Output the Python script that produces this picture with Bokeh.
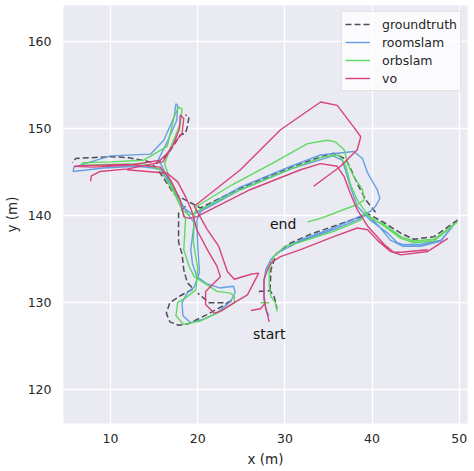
import numpy as np
from bokeh.plotting import figure
from bokeh.models import Range1d, FixedTicker, Legend, LegendItem
from bokeh.core.properties import value
from bokeh.embed import file_html
from bokeh.resources import INLINE

N = None  # break between pieces of a trajectory

# ---------------- data (metres) ----------------
gt_x = [27.0, 28.3, 28.8, 29.1, N,
        28.3, 28.4, 29.0, 30.5, 33.0, 35.6, 38.7, 39.6, 41.4, 43.3, 44.8, 47.1, 49.8, N,
        40.4, 39.3, 38.3, 37.6, 37.0, 35.6, 34.5, 30.7, 24.9, 20.3, 19.2, 17.3, 15.7, 14.6, 12.0, 10.0, 6.0, 5.6, N,
        15.2, 16.5, 17.5, 18.0, 18.6, 18.8, 19.0, 18.6, N,
        18.6, 17.8, 17.8, 18.2, 18.4, 18.8, 19.5, 18.0, 16.8, 16.4, 16.8, 17.8, 19.0, 21.0, 23.0, 24.0, 23.4, 21.3, 20.0]
gt_y = [131.3, 131.4, 130.6, 129.3, N,
        131.4, 133.8, 135.6, 136.8, 137.9, 138.8, 139.9, 140.2, 139.2, 138.0, 137.3, 137.6, 139.5, N,
        140.4, 141.8, 143.7, 145.3, 146.5, 147.2, 146.9, 145.6, 143.2, 140.9, 141.5, 142.5, 144.9, 146.2, 146.7, 146.8, 146.6, 146.1, N,
        146.0, 147.0, 148.5, 149.3, 149.5, 150.2, 151.4, 151.6, N,
        141.1, 140.3, 137.0, 135.6, 133.8, 132.3, 131.6, 130.8, 130.0, 128.8, 127.8, 127.4, 127.6, 128.6, 129.7, 130.3, 130.0, 130.0, 131.1]

roomslam_x = [28.2, 27.8, 27.6, 27.6, 27.8, 28.4, 29.1, 31.4, 35.6, 38.7, 39.4, 40.8, 42.1, 43.5, 45.6, 47.9, 49.4,
              47.9, 45.6, 43.5, 42.9, 41.8, 39.8, 38.3, 37.5, 36.6, 35.5, 30.7, 24.9, 20.5, 19.4, 18.4, 17.3, 15.7,
              13.0, 9.2, 5.7, 5.8, 8.0, 10.0, 14.6, 16.1, 17.3, 17.5, 17.7, 17.6, 16.5, 15.5, 16.5, 17.8, 19.0,
              19.6, 19.2, 19.4, 19.9, 21.0, 22.5, 24.1, 24.3, 23.8, 22.2, 20.7, 19.2, 18.3, 18.2, 18.8, 19.6,
              20.2, 20.0, 19.9, 20.5, 24.9, 30.7, 34.1, 37.9, 38.9, 39.5, 40.6, 40.9, 40.4, 39.8, 38.5, 35.6,
              32.0, 30.5]
roomslam_y = [128.5, 129.2, 131.0, 132.3, 133.8, 135.0, 135.7, 136.9, 138.4, 139.7, 140.2, 138.8, 137.2, 136.5, 136.5, 137.1, 139.0,
              137.2, 136.7, 136.7, 136.9, 138.0, 139.5, 141.1, 143.4, 146.4, 146.9, 145.4, 143.0, 140.6, 140.2, 140.9, 143.0, 145.4,
              145.7, 145.5, 145.1, 145.6, 146.3, 146.9, 147.1, 148.7, 151.4, 152.9, 152.7, 151.0, 148.5, 146.5, 144.5, 142.0, 140.0,
              139.2, 136.1, 134.5, 133.0, 132.2, 131.7, 131.9, 131.2, 130.2, 128.8, 128.1, 127.7, 128.5, 130.0, 131.1, 131.8,
              133.5, 136.5, 139.5, 140.8, 143.3, 145.7, 147.0, 147.4, 146.6, 144.9, 143.0, 142.0, 141.1, 140.5, 139.9, 138.6,
              137.3, 136.6]

orbslam_x = [29.1, 28.9, 28.4, 28.2, 28.2, 28.7, 30.0, 31.8, 35.6, 38.7, 39.1, 41.4, 43.3, 44.8, 47.1, 49.8,
             47.1, 44.8, 43.3, 41.4, 39.8, 38.3, 37.5, 37.0, 36.2, 34.5, 30.7, 24.9, 20.3, 19.6, 19.0, 18.2, 17.3,
             15.7, 13.8, 10.0, 6.6, 6.8, 10.0, 13.8, 16.5, 17.3, 17.8, 18.2, 18.0, 16.9, 16.2, 17.0, 18.0, 18.6,
             18.4, 19.0, 19.6, 21.3, 22.2, 23.8, 24.2, 24.2, 22.2, 20.3, 18.4, 17.5, 17.7, 18.8, 19.8, 20.0, 19.5,
             19.6, 19.9, 24.0, 28.5, 32.6, 34.9, 35.8, 36.8, 37.2, 37.9, 38.9, 39.1, 38.3, 34.1, 32.6, N,
             27.2, 28.2]
orbslam_y = [129.0, 130.0, 130.7, 132.0, 133.8, 135.3, 136.5, 137.0, 138.2, 139.5, 140.3, 138.8, 137.4, 136.9, 137.1, 139.3,
             137.3, 137.1, 137.6, 139.0, 139.7, 141.8, 143.7, 145.7, 147.0, 146.8, 145.4, 143.0, 140.7, 140.3, 140.1, 140.7, 142.6,
             145.3, 146.0, 145.9, 145.8, 146.1, 146.2, 146.4, 148.0, 151.4, 152.5, 152.3, 150.6, 147.9, 146.0, 143.5, 141.2, 139.6,
             136.1, 134.2, 133.0, 131.9, 131.3, 131.1, 130.7, 130.0, 128.8, 127.9, 127.5, 128.5, 130.0, 130.7, 131.5, 134.0, 137.0,
             140.0, 141.1, 143.6, 146.0, 148.3, 148.7, 148.5, 147.6, 146.0, 144.5, 143.0, 141.8, 141.3, 139.7, 139.3, N,
             130.0, 130.0]

vo_x = [26.1, 27.2, 27.7, N,
        28.2, 27.9, 27.6, 27.6, 28.0, 28.4, 29.5, 31.8, 35.6, 38.3, 39.5, 40.6, 42.1, 43.3, 46.4, 48.7, N,
        46.4, 43.3, 42.5, 41.4, 39.5, 38.3, 37.5, 36.8, 36.0, 34.1, 31.8, 26.0, 19.9, 19.0, 18.4, 18.0, 16.9,
        15.7, 12.0, 8.0, 5.8, 8.0, 12.0, 15.7, 16.5, 17.6, 18.2, 18.4, 18.0, 17.9, 17.2, 16.0, 12.0, 8.8, 7.8, 7.7, N,
        11.9, 16.5, 17.7, 18.6, 19.3, 19.9, 21.1, 22.2, 22.6, 21.9, 20.9, 20.9, 21.9, 22.6, 24.2, 25.7, 27.0,
        26.2, 24.2, 23.4, 22.4, 21.1, 19.6, 24.9, 29.5, 34.1, 36.0, 37.9, 38.7, 38.3, 36.4, 33.3]
vo_y = [129.1, 129.3, 129.9, N,
        127.8, 129.0, 130.4, 132.7, 133.8, 134.6, 135.3, 136.1, 137.6, 138.6, 138.4, 137.2, 135.9, 135.5, 135.9, 137.4, N,
        136.1, 135.8, 135.8, 136.7, 138.8, 140.7, 142.6, 144.5, 145.7, 146.0, 145.3, 143.0, 139.9, 139.7, 139.9, 141.8, 144.1,
        145.6, 145.9, 145.8, 145.7, 145.6, 145.8, 146.4, 147.2, 148.7, 149.5, 151.2, 151.6, 150.0, 148.2, 146.2, 145.4, 145.1, 144.6, 144.0, N,
        145.3, 144.9, 143.9, 142.2, 140.6, 138.4, 136.1, 134.2, 133.0, 132.3, 131.3, 129.8, 128.8, 129.0, 130.0, 130.9, 133.4,
        133.3, 132.7, 133.6, 136.5, 138.4, 141.1, 145.3, 149.9, 153.1, 152.7, 150.2, 149.1, 147.6, 145.7, 143.4]

x_ticks = [10, 20, 30, 40, 50]
y_ticks = [120, 130, 140, 150, 160]
series_names = ["groundtruth", "roomslam", "orbslam", "vo"]
note_text = ["end", "start"]
note_x = [29.8, 28.2]
note_y = [139.1, 126.4]


def arr(a):
    return np.array([np.nan if v is None else v for v in a], dtype=float)


FONT = "DejaVu Sans"
TXT = "#262626"

p = figure(frame_width=404, frame_height=418,
           x_range=Range1d(4.6, 50.95), y_range=Range1d(116.1, 164.2),
           output_backend="svg", toolbar_location=None,
           min_border_left=55, min_border_top=5, min_border_right=5, min_border_bottom=40,
           background_fill_color="#EAEAF2", border_fill_color="white")
p.outline_line_color = None

for ax in (p.xaxis, p.yaxis):
    ax.axis_line_color = None
    ax.major_tick_line_color = None
    ax.minor_tick_line_color = None
    ax.major_tick_out = 0
    ax.major_tick_in = 0
    ax.major_label_text_font = FONT
    ax.major_label_text_font_size = "12.5px"
    ax.major_label_text_color = TXT
    ax.axis_label_text_font = FONT
    ax.axis_label_text_font_size = "13.5px"
    ax.axis_label_text_font_style = "normal"
    ax.axis_label_text_color = TXT

p.xaxis.ticker = FixedTicker(ticks=x_ticks)
p.yaxis.ticker = FixedTicker(ticks=y_ticks)
p.xaxis.axis_label = "x (m)"
p.yaxis.axis_label = "y (m)"
p.xaxis.major_label_standoff = 10
p.yaxis.major_label_standoff = 12
p.xaxis.axis_label_standoff = 5
p.yaxis.axis_label_standoff = 5

p.grid.grid_line_color = "white"
p.grid.grid_line_width = 1.3

r_gt = p.line(arr(gt_x), arr(gt_y), line_color="#4d4d59", line_width=1.5, line_dash="6 3")
r_rs = p.line(arr(roomslam_x), arr(roomslam_y), line_color="#5f9be0", line_width=1.4, line_alpha=0.95)
r_orb = p.line(arr(orbslam_x), arr(orbslam_y), line_color="#58d858", line_width=1.4, line_alpha=0.95)
r_vo = p.line(arr(vo_x), arr(vo_y), line_color="#d63a74", line_width=1.4, line_alpha=0.95)

p.text(x=note_x, y=note_y, text=note_text, text_font=value(FONT), text_font_size="14px",
       text_align="center", text_baseline="middle", text_color="#151515")

legend = Legend(items=[LegendItem(label=n, renderers=[r]) for n, r in
                       zip(series_names, [r_gt, r_rs, r_orb, r_vo])],
                location="top_right")
legend.margin = 6
legend.padding = 3
legend.spacing = 0
legend.label_height = 18
legend.glyph_height = 18
legend.glyph_width = 25
legend.label_standoff = 12
legend.label_text_font = FONT
legend.label_text_font_size = "12.5px"
legend.label_text_color = TXT
legend.background_fill_color = "white"
legend.background_fill_alpha = 0.8
legend.border_line_color = "#cccccc"
legend.border_line_width = 1
p.add_layout(legend)

open("out.html", "w").write(file_html(p, INLINE))
